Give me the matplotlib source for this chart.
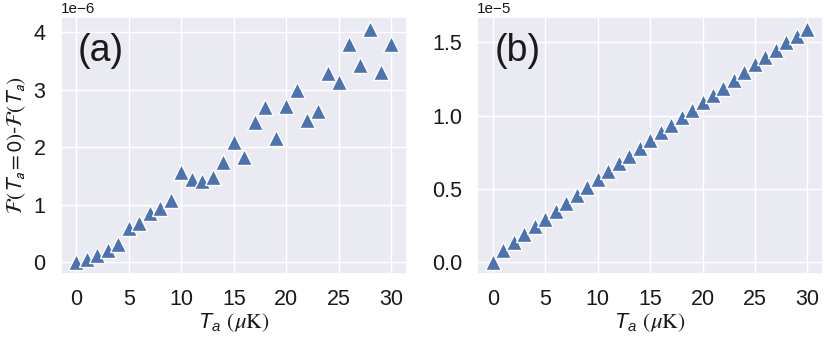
import numpy as np
import matplotlib
matplotlib.use('Agg')
import matplotlib.pyplot as plt
import seaborn as sns

# temperature steps (uK)
Ta = list(range(31))

# panel (a): F(Ta=0) - F(Ta), in units of 1e-6
diff_a = [0.0, 0.05, 0.13, 0.22, 0.32, 0.59, 0.69, 0.86, 0.95, 1.08,
          1.56, 1.45, 1.41, 1.48, 1.74, 2.09, 1.83, 2.43, 2.70, 2.15,
          2.71, 2.99, 2.47, 2.63, 3.29, 3.13, 3.79, 3.43, 4.05, 3.31, 3.79]

# panel (b): same quantity, in units of 1e-5
diff_b = [0.0, 0.085, 0.14, 0.195, 0.245, 0.295, 0.35, 0.405, 0.46, 0.515,
          0.568, 0.62, 0.675, 0.728, 0.782, 0.836, 0.886, 0.936, 0.988, 1.04,
          1.09, 1.14, 1.19, 1.24, 1.295, 1.35, 1.40, 1.45, 1.50, 1.545, 1.59]

sns.set_theme(style='darkgrid')
plt.rcParams['font.family'] = ['Liberation Sans', 'DejaVu Sans']
plt.rcParams['mathtext.fontset'] = 'stixsans'
# custom set only used by the x label: sans italic T, serif (muK)
plt.rcParams['mathtext.rm'] = 'STIXGeneral'
plt.rcParams['mathtext.it'] = 'Liberation Sans:italic'
plt.rcParams['mathtext.fallback'] = 'stix'

fig = plt.figure(figsize=(8.25, 3.4), dpi=100)
ax1 = fig.add_axes([0.0736, 0.194, 0.4195, 0.755])
ax2 = fig.add_axes([0.5785, 0.194, 0.4191, 0.755])

ax1.plot(Ta, np.array(diff_a) * 1e-6, '^', color='#4C72B0', ms=11,
         mec='white', mew=1)
ax2.plot(Ta, np.array(diff_b) * 1e-5, '^', color='#4C72B0', ms=11,
         mec='white', mew=1)

xlab = '$T_a\\ (\U0001D707\\mathrm{K})$'

for ax, lab in [(ax1, '(a)'), (ax2, '(b)')]:
    ax.set_xticks([0, 5, 10, 15, 20, 25, 30])
    ax.tick_params(labelsize=15.5, pad=5, labelcolor='#1a1a1a')
    ax.yaxis.get_offset_text().set_fontsize(11)
    ax.set_xlabel(xlab, fontsize=15.5, labelpad=1, color='#1a1a1a',
                  math_fontfamily='custom')
    ax.text(0.05, 0.87, lab, transform=ax.transAxes, fontsize=27,
            va='center', ha='left', color='#1a1a1a')

ax1.set_yticks([0, 1e-6, 2e-6, 3e-6, 4e-6])
ax2.set_yticks([0, 0.5e-5, 1.0e-5, 1.5e-5])
ax1.set_ylabel(r'$\mathcal{F}(T_a=0)$-$\mathcal{F}(T_a)$', fontsize=15.5,
               labelpad=4, color='#1a1a1a')

fig.savefig('out.png', dpi=100)
